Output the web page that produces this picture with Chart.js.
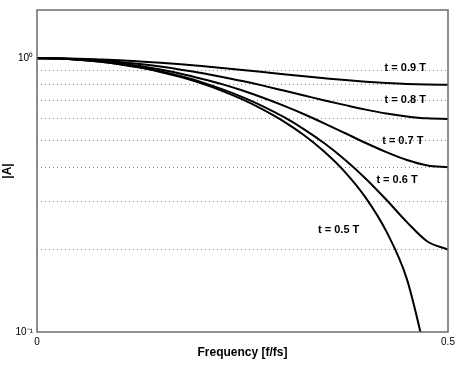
<!DOCTYPE html>
<html>
<head>
<meta charset="utf-8">
<script src="https://cdn.jsdelivr.net/npm/chart.js@4/dist/chart.umd.min.js"></script>
<style>
  html, body { margin: 0; padding: 0; background: #fff; }
  #wrap { width: 474px; height: 373px; }
</style>
</head>
<body>
<div id="wrap"><canvas id="magChart" width="474" height="373"></canvas></div>
<script>
// frequency axis (f/fs)
const freq = [0, 0.025, 0.05, 0.075, 0.1, 0.125, 0.15, 0.175, 0.2, 0.225, 0.25,
  0.275, 0.3, 0.325, 0.35, 0.375, 0.4, 0.425, 0.45, 0.475, 0.5];

// |A|
const t09 = [1, 0.999, 0.996, 0.990, 0.983, 0.973, 0.962, 0.950, 0.936, 0.921, 0.906,
  0.890, 0.874, 0.859, 0.845, 0.832, 0.821, 0.812, 0.805, 0.801, 0.800];
const t08 = [1, 0.998, 0.992, 0.982, 0.969, 0.952, 0.932, 0.908, 0.883, 0.854, 0.825,
  0.794, 0.762, 0.731, 0.701, 0.674, 0.649, 0.628, 0.613, 0.603, 0.600];
const t07 = [1, 0.997, 0.990, 0.977, 0.959, 0.936, 0.909, 0.878, 0.842, 0.804, 0.762,
  0.717, 0.671, 0.624, 0.577, 0.532, 0.490, 0.454, 0.425, 0.406, 0.400];
const t06 = [1, 0.997, 0.988, 0.973, 0.953, 0.927, 0.896, 0.859, 0.818, 0.771, 0.721,
  0.667, 0.610, 0.550, 0.488, 0.425, 0.363, 0.304, 0.252, 0.214, 0.200];
const t05 = [1, 0.997, 0.988, 0.972, 0.951, 0.924, 0.891, 0.853, 0.809, 0.760, 0.707,
  0.649, 0.588, 0.523, 0.454, 0.383, 0.309, 0.233, 0.156, 0.078];

const seriesNames = ['t = 0.9 T', 't = 0.8 T', 't = 0.7 T', 't = 0.6 T', 't = 0.5 T'];
const seriesValues = [t09, t08, t07, t06, t05];

// where each curve name sits (in data units)
const labelX = [0.448, 0.448, 0.445, 0.438, 0.367];
const labelY = [0.92, 0.704, 0.499, 0.36, 0.235];

const yTickValues = [0.1, 0.2, 0.3, 0.4, 0.5, 0.6, 0.7, 0.8, 0.9, 1];
const yTickText = { '0.1': '10\u207B\u00B9', '1': '10\u2070' };
const xTickValues = [0, 0.5];

const frame = {
  id: 'frame',
  afterDatasetsDraw(chart) {
    const a = chart.chartArea;
    const ctx = chart.ctx;
    ctx.save();
    ctx.strokeStyle = '#6b6b6b';
    ctx.lineWidth = 1.5;
    ctx.strokeRect(a.left, a.top, a.right - a.left, a.bottom - a.top);
    ctx.restore();
  }
};

const curveNames = {
  id: 'curveNames',
  afterDatasetsDraw(chart) {
    const ctx = chart.ctx;
    const xs = chart.scales.x, ys = chart.scales.y;
    ctx.save();
    ctx.font = 'bold 11px "Liberation Sans", Arial, sans-serif';
    ctx.fillStyle = '#000';
    ctx.textAlign = 'center';
    ctx.textBaseline = 'middle';
    seriesNames.forEach((name, i) => {
      ctx.fillText(name, xs.getPixelForValue(labelX[i]), ys.getPixelForValue(labelY[i]));
    });
    ctx.restore();
  }
};

const ctx = document.getElementById('magChart').getContext('2d');

new Chart(ctx, {
  type: 'line',
  data: {
    datasets: seriesValues.map((vals, i) => ({
      label: seriesNames[i],
      data: vals.map((v, k) => ({ x: freq[k], y: v })),
      borderColor: '#000',
      borderWidth: 2,
      pointRadius: 0,
      fill: false,
      cubicInterpolationMode: 'monotone'
    }))
  },
  options: {
    responsive: false,
    animation: false,
    layout: { padding: { top: 8, right: 26, left: 0, bottom: 0 } },
    plugins: {
      legend: { display: false },
      tooltip: { enabled: false }
    },
    scales: {
      x: {
        type: 'linear',
        min: 0,
        max: 0.5,
        afterBuildTicks: scale => { scale.ticks = xTickValues.map(v => ({ value: v })); },
        afterFit: scale => { scale.height = 41; },
        grid: { display: false, drawTicks: false },
        border: { display: false },
        ticks: {
          padding: 4,
          maxRotation: 0,
          color: '#000',
          font: { family: '"Liberation Sans", Arial, sans-serif', size: 10 },
          callback: v => String(v)
        },
        title: {
          display: true,
          text: 'Frequency [f/fs]',
          color: '#000',
          padding: { top: 0, bottom: 13 },
          font: { family: '"Liberation Sans", Arial, sans-serif', size: 12, weight: 'bold' }
        }
      },
      y: {
        type: 'logarithmic',
        min: 0.1,
        max: 1.5,
        afterBuildTicks: scale => { scale.ticks = yTickValues.map(v => ({ value: v })); },
        afterFit: scale => { scale.width = 37; },
        grid: {
          drawTicks: false,
          lineWidth: 1,
          color: c => (c.tick && yTickText[String(c.tick.value)]) ? 'rgba(0,0,0,0)' : '#8a8a8a'
        },
        border: { display: false, dash: [1, 3] },
        ticks: {
          padding: 4,
          color: '#000',
          font: { family: '"Liberation Sans", Arial, sans-serif', size: 10 },
          callback: v => yTickText[String(v)] || ''
        },
        title: {
          display: true,
          text: '|A|',
          color: '#000',
          padding: { top: 0, bottom: 0 },
          font: { family: '"Liberation Sans", Arial, sans-serif', size: 12, weight: 'bold' }
        }
      }
    }
  },
  plugins: [frame, curveNames]
});
</script>
</body>
</html>
